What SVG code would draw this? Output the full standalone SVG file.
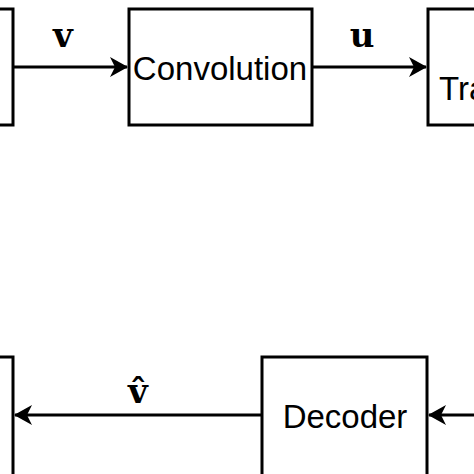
<svg xmlns="http://www.w3.org/2000/svg" width="474" height="474" viewBox="0 0 474 474">
<style>
.box{fill:#fff;stroke:#000;stroke-width:3}
.lbl{font-family:"Liberation Sans",Arial,sans-serif;font-size:33px;fill:#000}
.math{font-family:"DejaVu Serif","Liberation Serif",serif;font-weight:bold;font-size:34px;fill:#000}
.edge{stroke:#000;stroke-width:3;fill:none}
</style>
<defs>
<marker id="arr" viewBox="0 0 18 20" refX="17" refY="10" markerWidth="18" markerHeight="20" markerUnits="userSpaceOnUse" orient="auto">
<path d="M0,0 L18,10 L0,20 L5,10 Z" fill="#000"/>
</marker>
</defs>
<rect width="474" height="474" fill="#fff"/>
<g id="node-left-top"><rect class="box" x="-60" y="9" width="73" height="116"/></g>
<g id="node-convolution"><rect class="box" x="129" y="9" width="183" height="116"/><text class="lbl" x="220" y="80" text-anchor="middle">Convolution</text></g>
<g id="node-tra"><rect class="box" x="428" y="9" width="80" height="116"/><text class="lbl" x="439" y="100">Tra</text></g>
<g id="node-left-bottom"><rect class="box" x="-60" y="357" width="73" height="130"/></g>
<g id="node-decoder"><rect class="box" x="262" y="357" width="165" height="130"/><text class="lbl" x="345" y="428" text-anchor="middle">Decoder</text></g>
<g id="connectors">
<line class="edge" x1="14" y1="67" x2="127" y2="67" marker-end="url(#arr)"/>
<line class="edge" x1="313" y1="67" x2="426" y2="67" marker-end="url(#arr)"/>
<line class="edge" x1="261" y1="415" x2="15" y2="415" marker-end="url(#arr)"/>
<line class="edge" x1="480" y1="415" x2="429" y2="415" marker-end="url(#arr)"/>
<text class="math" x="63" y="47" text-anchor="middle">v</text>
<text class="math" x="362" y="47" text-anchor="middle">u</text>
<text class="math" x="138" y="403" text-anchor="middle">v̂</text>
</g>
</svg>
